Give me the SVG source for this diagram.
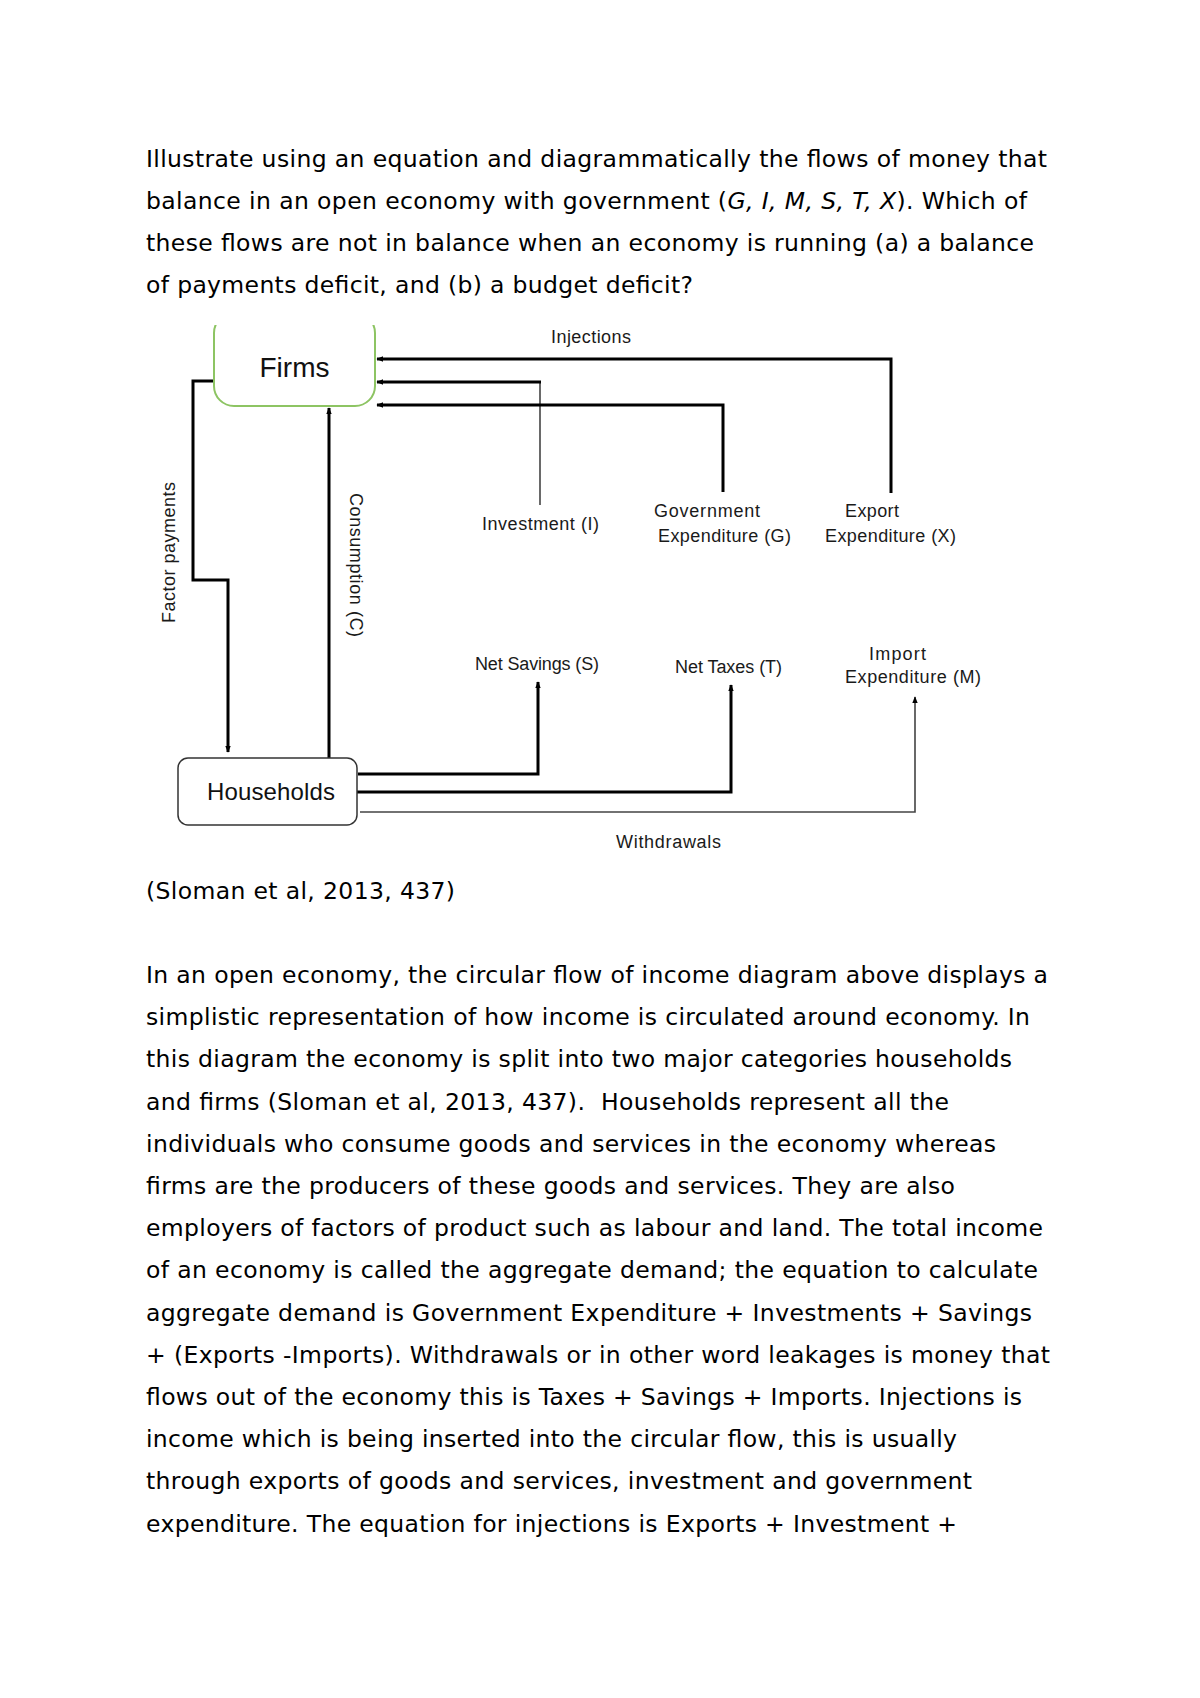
<svg xmlns="http://www.w3.org/2000/svg" width="1200" height="1698" viewBox="0 0 1200 1698">
<style>
.body{font-family:"DejaVu Sans",sans-serif;font-size:23.5px;fill:#000}
.lbl{font-family:"Liberation Sans",Arial,sans-serif;font-size:18px;fill:#1a1a1a}
.ln{fill:none;stroke:#000;stroke-width:3}
.thin{fill:none;stroke:#444;stroke-width:1.6}
</style>
<defs>
<marker id="ah" viewBox="0 0 10 10" refX="9" refY="5" markerWidth="7" markerHeight="7" markerUnits="userSpaceOnUse" orient="auto"><path d="M0,1 L10,5 L0,9 z" fill="#000"/></marker>
<clipPath id="cut"><rect x="200" y="325" width="200" height="100"/></clipPath>
</defs>
<rect width="1200" height="1698" fill="#fff"/>
<g id="question">
<text class="body" x="146" y="167" textLength="901">Illustrate using an equation and diagrammatically the flows of money that</text>
<text class="body" x="146" y="209" textLength="881">balance in an open economy with government (<tspan font-style="italic">G, I, M, S, T, X</tspan>). Which of</text>
<text class="body" x="146" y="251" textLength="888">these flows are not in balance when an economy is running (a) a balance</text>
<text class="body" x="146" y="293" textLength="547">of payments deficit, and (b) a budget deficit?</text>
</g>
<g id="connectors">
<path class="ln" d="M891,493 V359 H377" marker-end="url(#ah)"/>
<path class="thin" d="M540,505 V382"/>
<path class="ln" d="M541,382 H377" marker-end="url(#ah)"/>
<path class="ln" d="M723,492 V405 H377" stroke-width="3.4" marker-end="url(#ah)"/>
<path class="ln" d="M214,381 H193 V580 H228 V752" marker-end="url(#ah)"/>
<path class="ln" d="M329,758 V408" marker-end="url(#ah)"/>
<path class="ln" d="M358,774 H538 V682" marker-end="url(#ah)"/>
<path class="ln" d="M357,792 H731 V685" marker-end="url(#ah)"/>
<path class="thin" d="M360,812 H915 V697" marker-end="url(#ah)"/>
</g>
<g id="firms">
<rect x="214" y="313" width="161" height="93" rx="20" fill="#fff" stroke="#8dc463" stroke-width="2" clip-path="url(#cut)"/>
<text x="294.5" y="377" text-anchor="middle" font-family="Liberation Sans, Arial, sans-serif" font-size="28" fill="#111">Firms</text>
</g>
<g id="households">
<rect x="178" y="758" width="179" height="67" rx="10" fill="#fff" stroke="#333" stroke-width="1.5"/>
<text x="207" y="800" textLength="128" font-family="Liberation Sans, Arial, sans-serif" font-size="24" fill="#111">Households</text>
</g>
<g id="labels">
<text class="lbl" x="551" y="343" textLength="80">Injections</text>
<text class="lbl" x="482" y="530" textLength="117">Investment (I)</text>
<text class="lbl" x="654" y="517" textLength="106">Government</text>
<text class="lbl" x="658" y="542" textLength="133">Expenditure (G)</text>
<text class="lbl" x="845" y="517" textLength="54">Export</text>
<text class="lbl" x="825" y="542" textLength="131">Expenditure (X)</text>
<text class="lbl" x="475" y="670" textLength="124">Net Savings (S)</text>
<text class="lbl" x="675" y="673" textLength="107">Net Taxes (T)</text>
<text class="lbl" x="869" y="660" textLength="57">Import</text>
<text class="lbl" x="845" y="683" textLength="136">Expenditure (M)</text>
<text class="lbl" x="616" y="848" textLength="105">Withdrawals</text>
<text class="lbl" x="175" y="623" textLength="141" transform="rotate(-90 175 623)">Factor payments</text>
<text class="lbl" x="350" y="493" textLength="144" transform="rotate(90 350 493)">Consumption (C)</text>
</g>
<g id="body">
<text class="body" x="146" y="899" textLength="309">(Sloman et al, 2013, 437)</text>
<text class="body" x="146" y="983" textLength="902">In an open economy, the circular flow of income diagram above displays a</text>
<text class="body" x="146" y="1025.2" textLength="884">simplistic representation of how income is circulated around economy. In</text>
<text class="body" x="146" y="1067.4" textLength="866">this diagram the economy is split into two major categories households</text>
<text class="body" x="146" y="1109.6" textLength="803" style="white-space:pre">and firms (Sloman et al, 2013, 437).  Households represent all the</text>
<text class="body" x="146" y="1151.8" textLength="850">individuals who consume goods and services in the economy whereas</text>
<text class="body" x="146" y="1194" textLength="809">firms are the producers of these goods and services. They are also</text>
<text class="body" x="146" y="1236.2" textLength="897">employers of factors of product such as labour and land. The total income</text>
<text class="body" x="146" y="1278.4" textLength="892">of an economy is called the aggregate demand; the equation to calculate</text>
<text class="body" x="146" y="1320.6" textLength="886">aggregate demand is Government Expenditure + Investments + Savings</text>
<text class="body" x="146" y="1362.8" textLength="904">+ (Exports -Imports). Withdrawals or in other word leakages is money that</text>
<text class="body" x="146" y="1405" textLength="876">flows out of the economy this is Taxes + Savings + Imports. Injections is</text>
<text class="body" x="146" y="1447.2" textLength="811">income which is being inserted into the circular flow, this is usually</text>
<text class="body" x="146" y="1489.4" textLength="826">through exports of goods and services, investment and government</text>
<text class="body" x="146" y="1531.6" textLength="811">expenditure. The equation for injections is Exports + Investment +</text>
</g>
</svg>
